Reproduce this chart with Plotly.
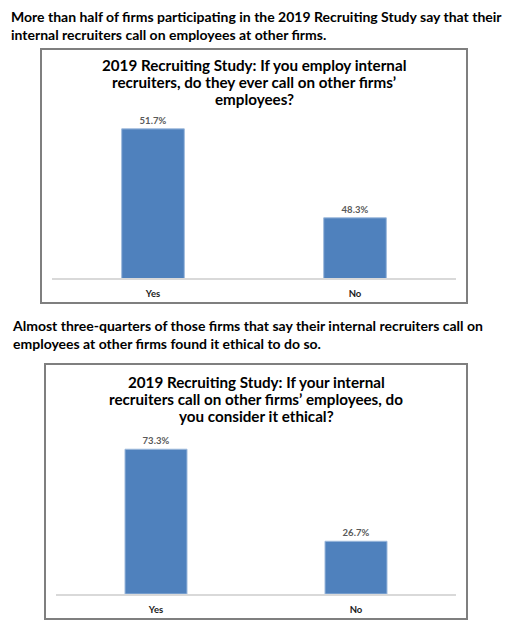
import plotly.graph_objects as go

W, H = 514, 633

# ---- data ----
categories = ["Yes", "No"]
study1_values = [51.7, 48.3]
study2_values = [73.3, 26.7]

heading1 = ["More than half of firms participating in the 2019 Recruiting Study say that their",
            "internal recruiters call on employees at other firms."]
heading2 = ["Almost three-quarters of those firms that say their internal recruiters call on",
            "employees at other firms found it ethical to do so."]
title1 = ["2019 Recruiting Study: If you employ internal",
          "recruiters, do they ever call on other firms\u2019",
          "employees?"]
title2 = ["2019 Recruiting Study: If your internal",
          "recruiters call on other firms\u2019 employees, do",
          "you consider it ethical?"]

FONT = "Lato, Carlito, Calibri, sans-serif"
BAR = "#4F81BD"

def px(x):
    return x / W

def py(y):
    return 1 - y / H

fig = go.Figure()
for vals, xa, ya in [(study1_values, "x", "y"), (study2_values, "x2", "y2")]:
    fig.add_trace(go.Bar(x=categories, y=vals, xaxis=xa, yaxis=ya,
                         width=0.31, marker=dict(color=BAR, line=dict(color="#9DB9DC", width=1)),
                         texttemplate="<b>%{y:.1f}%</b>", textposition="outside", cliponaxis=False,
                         textfont=dict(family=FONT, size=9.5, color="#595959"), showlegend=False,
                         hoverinfo="skip"))

xcommon = dict(showgrid=False, zeroline=False, showline=True, linecolor="#D9D9D9", linewidth=1.5,
               ticks="", tickfont=dict(family=FONT, size=9.5, color="#1a1a1a"),
               tickmode="array", tickvals=categories,
               ticktext=["<b>" + c + "</b>" for c in categories],
               range=[-0.5, 1.5], ticklabelstandoff=6, fixedrange=True)
ycommon = dict(showgrid=False, zeroline=False, showline=False, showticklabels=False,
               ticks="", fixedrange=True)

fig.update_layout(
    width=W, height=H, margin=dict(l=0, r=0, t=0, b=0),
    paper_bgcolor="white", plot_bgcolor="white",
    xaxis=dict(domain=[px(52), px(456)], anchor="y", **xcommon),
    yaxis=dict(domain=[py(278), py(121)], anchor="x", range=[46, 52], **ycommon),
    xaxis2=dict(domain=[px(56), px(456)], anchor="y2", **xcommon),
    yaxis2=dict(domain=[py(594), py(436)], anchor="x2", range=[0, 80], **ycommon),
)

# boxes
for (x0, y0, x1, y1) in [(41, 49, 467, 303), (45, 364, 467, 619)]:
    fig.add_shape(type="rect", xref="paper", yref="paper",
                  x0=px(x0), y0=py(y0), x1=px(x1), y1=py(y1),
                  line=dict(color="#7F7F7F", width=2), fillcolor="rgba(0,0,0,0)", layer="above")

def add_block(lines, x, y, size, anchor, align):
    fig.add_annotation(text="<br>".join("<b>" + t + "</b>" for t in lines),
                       xref="paper", yref="paper", x=px(x), y=py(y),
                       xanchor=anchor, yanchor="middle", align=align,
                       showarrow=False, font=dict(family=FONT, size=size, color="black"))

def add_lines(lines, x, ys, size, anchor):
    for t, y in zip(lines, ys):
        fig.add_annotation(text="<b>" + t + "</b>", xref="paper", yref="paper",
                           x=px(x), y=py(y), xanchor=anchor, yanchor="middle",
                           showarrow=False, font=dict(family=FONT, size=size, color="black"))

add_block(heading1, 9, 25.5, 14, "left", "left")
add_block(heading2, 10, 334.5, 14, "left", "left")
add_lines(title1, 254, [65, 82, 99], 15.2, "center")
add_lines(title2, 256, [382, 399, 416], 15.2, "center")

fig.write_html("out.html", config={"displayModeBar": False},
               post_script="document.body.style.margin='0px';")
